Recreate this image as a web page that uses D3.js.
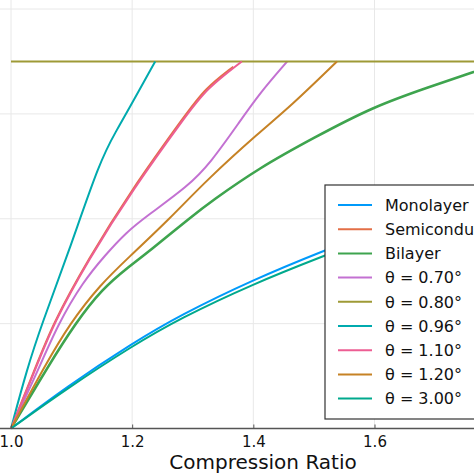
<!DOCTYPE html>
<html>
<head>
<meta charset="utf-8">
<script src="https://cdn.jsdelivr.net/npm/d3@7"></script>
<style>
  body { margin: 0; background: #fff; }
  text { font-family: "DejaVu Sans", sans-serif; }
</style>
</head>
<body>
<div id="chart"></div>
<script>
const width = 474
const height = 474

// series names, in drawing order
const names = ["Monolayer", "Semiconductor", "Bilayer", "θ = 0.70°", "θ = 0.80°", "θ = 0.96°", "θ = 1.10°", "θ = 1.20°", "θ = 3.00°"]
const colors = ["#009afa", "#e36f47", "#3ea44e", "#c371d2", "#9e9a36", "#00aaae", "#ed5e93", "#c68225", "#00a98d"]

// compression ratio / value pairs
const monolayer = [[1, 0], [1.092, 0.40], [1.201, 0.815], [1.279, 1.08], [1.400, 1.42], [1.518, 1.70], [1.6, 1.88], [1.7, 2.08], [1.8, 2.27]]
const semiconductor = [[1, 0], [1.039, 0.56], [1.069, 1.00], [1.127, 1.61], [1.198, 2.27], [1.289, 3.00], [1.320, 3.24], [1.367, 3.45]]
const bilayer = [[1, 0], [1.062, 0.60], [1.106, 1.00], [1.150, 1.33], [1.196, 1.55], [1.226, 1.68], [1.300, 2.03], [1.329, 2.16], [1.411, 2.49], [1.499, 2.77], [1.598, 3.07], [1.692, 3.26], [1.763, 3.40], [1.8, 3.47]]
const theta070 = [[1, 0], [1.045, 0.56], [1.078, 1.00], [1.119, 1.40], [1.155, 1.65], [1.190, 1.87], [1.225, 2.03], [1.292, 2.31], [1.329, 2.53], [1.378, 2.93], [1.411, 3.20], [1.456, 3.50]]
const theta080 = [[1, 3.5], [1.8, 3.5]]
const theta096 = [[1, 0], [1.026, 0.56], [1.051, 1.00], [1.094, 1.66], [1.147, 2.56], [1.175, 2.85], [1.191, 3.01], [1.238, 3.50]]
const theta110 = [[1, 0], [1.040, 0.56], [1.070, 1.00], [1.128, 1.61], [1.200, 2.27], [1.291, 3.00], [1.323, 3.24], [1.381, 3.50]]
const theta120 = [[1, 0], [1.056, 0.60], [1.097, 1.00], [1.147, 1.37], [1.194, 1.63], [1.262, 2.00], [1.323, 2.37], [1.411, 2.83], [1.461, 3.07], [1.538, 3.50]]
const theta300 = [[1, 0], [1.092, 0.38], [1.201, 0.79], [1.279, 1.05], [1.400, 1.38], [1.518, 1.65], [1.6, 1.83], [1.7, 2.03], [1.8, 2.22]]

const series = [monolayer, semiconductor, bilayer, theta070, theta080, theta096, theta110, theta120, theta300]

const xTicks = [1.0, 1.2, 1.4, 1.6]
const yGrid = [1, 2, 3, 4]

const svg = d3.select("#chart")
    .append("svg")
    .attr("width", width)
    .attr("height", height)

const x = d3.scaleLinear().domain([1.0, 1.6]).range([11, 374.5])
const y = d3.scaleLinear().domain([0, 4]).range([428.5, 9])

// grid
svg.append("g")
    .selectAll("line")
    .data(yGrid)
    .enter()
    .append("line")
    .attr("x1", 0)
    .attr("x2", width)
    .attr("y1", d => y(d))
    .attr("y2", d => y(d))
    .attr("stroke", "#e8e8e8")
    .attr("stroke-width", 1)

svg.append("g")
    .selectAll("line")
    .data(xTicks)
    .enter()
    .append("line")
    .attr("x1", d => x(d))
    .attr("x2", d => x(d))
    .attr("y1", 0)
    .attr("y2", y(0))
    .attr("stroke", "#e8e8e8")
    .attr("stroke-width", 1)

// curves (basis spline smooths out small reading errors)
const line = d3.line()
    .x(d => x(d[0]))
    .y(d => y(d[1]))
    .curve(d3.curveBasis)

svg.append("g")
    .selectAll("path")
    .data(series)
    .enter()
    .append("path")
    .attr("d", line)
    .attr("fill", "none")
    .attr("stroke", (d, i) => colors[i])
    .attr("stroke-width", (d, i) => i === 2 ? 2.6 : 2)
    .attr("stroke-linejoin", "round")

// x axis
const xAxis = d3.axisBottom(x)
    .tickValues(xTicks)
    .tickFormat(d3.format(".1f"))
    .tickSize(-4)
    .tickPadding(8)

const gx = svg.append("g")
    .attr("transform", `translate(0,${y(0)})`)
    .call(xAxis)

gx.select(".domain")
    .attr("d", `M0,0H${width}`)
    .attr("stroke", "#555")
    .attr("stroke-width", 1.6)
gx.selectAll(".tick line").attr("stroke", "#555")
gx.selectAll(".tick text")
    .attr("fill", "#111")
    .style("font-size", "15px")
    .style("font-family", "DejaVu Sans, sans-serif")

svg.append("text")
    .attr("x", 263)
    .attr("y", 469)
    .attr("text-anchor", "middle")
    .style("font-size", "20px")
    .attr("fill", "#111")
    .text("Compression Ratio")

// legend
const legend = svg.append("g")

legend.append("rect")
    .attr("x", 325)
    .attr("y", 185)
    .attr("width", 160)
    .attr("height", 234)
    .attr("fill", "#fff")
    .attr("stroke", "#333")
    .attr("stroke-width", 1.2)

const rows = legend.selectAll("g.row")
    .data(names)
    .enter()
    .append("g")
    .attr("class", "row")
    .attr("transform", (d, i) => `translate(0,${205 + i * 24.2})`)

rows.append("line")
    .attr("x1", 338)
    .attr("x2", 372)
    .attr("stroke", (d, i) => colors[i])
    .attr("stroke-width", 2)

rows.append("text")
    .attr("x", 385)
    .attr("dy", "0.36em")
    .style("font-size", "16px")
    .attr("fill", "#111")
    .text(d => d)
</script>
</body>
</html>
